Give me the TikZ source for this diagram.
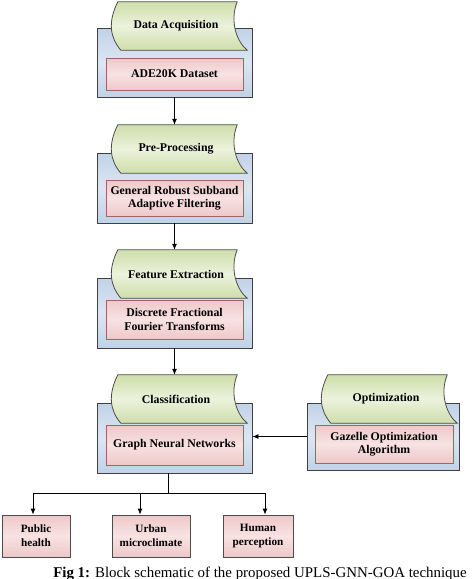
\documentclass[tikz,border=0pt]{standalone}
\usepackage{fontspec}
\setmainfont{Liberation Serif}
\usepackage{tikz}
\usetikzlibrary{arrows.meta,calc,positioning}
\definecolor{headgreen}{RGB}{206,222,170}
\definecolor{headlight}{RGB}{236,242,220}
\definecolor{panelblue}{RGB}{193,210,231}
\definecolor{panellight}{RGB}{220,230,242}
\definecolor{methodpink}{RGB}{238,200,200}
\definecolor{methodlight}{RGB}{248,226,226}
\pgfdeclarelayer{back}
\pgfdeclarelayer{mid}
\pgfsetlayers{back,mid,main}
\tikzset{%
	panel/.style     = {draw=black!75, line width=0.8pt, rectangle, inner sep=0pt, top color=panelblue, bottom color=panelblue, middle color=panellight},
	header/.style    = {rectangle, inner sep=0pt, minimum width=122pt, minimum height=48pt, font=\bfseries\fontsize{11.8}{13}\selectfont, text centered},
	headshape/.style = {draw=black!70, line width=0.8pt, top color=headgreen, bottom color=headgreen, middle color=headlight},
	method/.style    = {draw=black!65!red!60, line width=0.8pt, rectangle, inner sep=0pt, align=center, font=\bfseries\fontsize{11.8}{13.5}\selectfont, top color=methodpink, bottom color=methodpink, middle color=methodlight},
	outcome/.style   = {method, draw=black!70, minimum height=42pt, font=\bfseries\fontsize{11.2}{14}\selectfont},
	link/.style      = {line width=0.8pt},
	arrow/.style     = {line width=0.8pt, -{Latex[length=6pt,width=5pt]}},
}

\begin{document}
\begin{tikzpicture}[x=1pt,y=-1pt]
	\useasboundingbox (0,0) rectangle (474,579);
	% blue panels
	\begin{pgfonlayer}{back}
	\node[panel, minimum width=155pt, minimum height=69pt] (acqp)  at (174.5,62.5) {};
	\node[panel, minimum width=155pt, minimum height=70pt] (prep)  at (174.5,188) {};
	\node[panel, minimum width=155pt, minimum height=70pt] (featp) at (174.5,313) {};
	\node[panel, minimum width=155pt, minimum height=70pt] (clsp)  at (174.5,438) {};
	\node[panel, minimum width=152pt, minimum height=67pt] (optp)  at (383,436.5) {};
	\end{pgfonlayer}
	% stage titles
	\node[header] (acq)  at (176,26)  {Data Acquisition};
	\node[header] (pre)  at (176,149) {Pre-Processing};
	\node[header] (feat) at (176,274) {Feature Extraction};
	\node[header] (cls)  at (176,399) {Classification};
	\node[header] (opt)  at (386,399) {Optimization};
	\begin{pgfonlayer}{mid}
	\foreach \h in {acq,pre,feat,cls,opt}
		\draw[headshape] ($(\h.north west)+(3,0)$) -- (\h.north east)
			.. controls +(-8,20) and +(-10,-8) .. ($(\h.south east)+(10,0)$)
			-- ($(\h.south west)+(6,0)$)
			.. controls +(-11,-13) and +(-10,20) .. ($(\h.north west)+(3,0)$) -- cycle;
	\end{pgfonlayer}
	% methods
	\node[method, minimum width=137pt, minimum height=32pt] (ade)  at (174.5,74)    {ADE20K Dataset};
	\node[method, minimum width=137pt, minimum height=36pt] (grsa) at (174.5,198)   {General Robust Subband\\Adaptive Filtering};
	\node[method, minimum width=137pt, minimum height=39pt] (dfrft) at (174.5,319.5) {Discrete Fractional\\Fourier Transforms};
	\node[method, minimum width=137pt, minimum height=40pt] (gnn)  at (174.5,445)   {Graph Neural Networks};
	\node[method, minimum width=138pt, minimum height=38pt] (goa)  at (384,444)     {Gazelle Optimization\\Algorithm};
	% outcomes
	\node[outcome, minimum width=68pt] (pub) at (36,536)  {Public\\health};
	\node[outcome, minimum width=78pt] (urb) at (151,536) {Urban\\microclimate};
	\node[outcome, minimum width=70pt] (hum) at (258,536) {Human\\perception};
	% flow
	\draw[arrow] (acqp.south) -- (acqp.south |- pre.north);
	\draw[arrow] (prep.south) -- (prep.south |- feat.north);
	\draw[arrow] (featp.south) -- (featp.south |- cls.north);
	\draw[arrow] (optp.west) -- (optp.west -| clsp.east);
	\coordinate (split) at (168,493);
	\draw[link] (clsp.south -| split) -- (split);
	\draw[arrow] (split) -| ([xshift=-3pt]pub.north);
	\draw[arrow] (split) -| ([xshift=-11pt]urb.north);
	\draw[arrow] (split) -| ([xshift=7pt]hum.north);
	\node[anchor=base, font=\fontsize{14.9}{17}\selectfont] (cap) at (260,577) {\textbf{Fig 1:} Block schematic of the proposed UPLS-GNN-GOA technique};
\end{tikzpicture}
\end{document}
